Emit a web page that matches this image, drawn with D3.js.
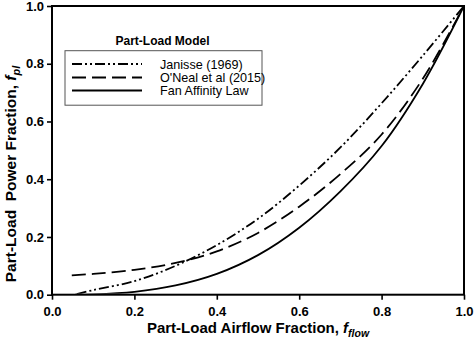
<!DOCTYPE html>
<html>
<head>
<meta charset="utf-8">
<script src="https://cdn.jsdelivr.net/npm/d3@7"></script>
<style>
  html, body { margin: 0; padding: 0; background: #fff; }
  svg { display: block; }
  text { font-family: Arial, "Liberation Sans", sans-serif; fill: #000; }
</style>
</head>
<body>
<svg id="chart" width="474" height="339"></svg>
<script>
// ---- Data ----
const seriesNames = ["Janisse (1969)", "O'Neal et al (2015)", "Fan Affinity Law"];

const flowJanisse = [0.06, 0.1, 0.2, 0.3, 0.4, 0.5, 0.6, 0.7, 0.8, 0.9, 1.0];
const plJanisse   = [0.002, 0.016, 0.047, 0.1, 0.172, 0.263, 0.378, 0.51, 0.663, 0.828, 1.0];

const flowONeal = [0.048, 0.1, 0.2, 0.3, 0.4, 0.5, 0.6, 0.7, 0.8, 0.9, 1.0];
const plONeal   = [0.067, 0.072, 0.086, 0.11, 0.15, 0.214, 0.305, 0.418, 0.555, 0.748, 1.0];

const flowFan = [0.056, 0.1, 0.2, 0.3, 0.4, 0.5, 0.6, 0.7, 0.8, 0.9, 1.0];
const plFan   = [0.0002, 0.0012, 0.01, 0.032, 0.072, 0.137, 0.232, 0.358, 0.515, 0.73, 1.0];

const xTicks = [0, 0.2, 0.4, 0.6, 0.8, 1.0];
const yTicks = [0, 0.2, 0.4, 0.6, 0.8, 1.0];

// ---- Layout ----
const svg = d3.select("#chart");
const mLeft = 52, mRight = 464, mTop = 6, mBottom = 294.7;

const x = d3.scaleLinear().domain([0, 1]).range([mLeft, mRight]);
const y = d3.scaleLinear().domain([0, 1]).range([mBottom, mTop]);

svg.append("rect").attr("width", 474).attr("height", 339).attr("fill", "#fff");

// Axes
const xAxis = d3.axisBottom(x).tickValues(xTicks).tickFormat(d3.format(".1f"))
  .tickSize(5).tickSizeOuter(0).tickPadding(7);
const yAxis = d3.axisLeft(y).tickValues(yTicks).tickFormat(d3.format(".1f"))
  .tickSize(5).tickSizeOuter(0).tickPadding(3);

const gx = svg.append("g").attr("transform", `translate(0,${mBottom})`).call(xAxis);
const gy = svg.append("g").attr("transform", `translate(${mLeft},0)`).call(yAxis);
[gx, gy].forEach(g => {
  g.select(".domain").remove();
  g.selectAll(".tick line").attr("stroke", "#000").attr("stroke-width", 1.6);
  g.selectAll(".tick text").attr("font-size", 13).attr("font-weight", "bold")
    .attr("font-family", "Arial, 'Liberation Sans', sans-serif").attr("fill", "#000");
});

// Frame
svg.append("rect")
  .attr("x", mLeft).attr("y", mTop)
  .attr("width", mRight - mLeft).attr("height", mBottom - mTop)
  .attr("fill", "none").attr("stroke", "#000").attr("stroke-width", 2);

// Curves
const styles = [
  { dash: "10,3,2,3,2,3" },
  { dash: "14,6" },
  { dash: null }
];
const seriesData = [
  d3.zip(flowJanisse, plJanisse),
  d3.zip(flowONeal, plONeal),
  d3.zip(flowFan, plFan)
];
const line = d3.line().x(d => x(d[0])).y(d => y(d[1])).curve(d3.curveCatmullRom.alpha(0.5));

svg.append("clipPath").attr("id", "plotclip")
  .append("rect").attr("x", mLeft).attr("y", mTop - 2).attr("width", mRight - mLeft).attr("height", mBottom - mTop + 1);

seriesData.forEach((data, i) => {
  svg.append("path")
    .datum(data)
    .attr("d", line)
    .attr("fill", "none")
    .attr("stroke", "#000")
    .attr("stroke-width", 1.8)
    .attr("stroke-dasharray", styles[i].dash)
    .attr("clip-path", "url(#plotclip)");
});

// Legend
svg.append("text")
  .attr("x", 162.5).attr("y", 45)
  .attr("text-anchor", "middle")
  .attr("font-size", 12).attr("font-weight", "bold")
  .text("Part-Load Model");

svg.append("rect")
  .attr("x", 65).attr("y", 50.7).attr("width", 197).attr("height", 54.5)
  .attr("fill", "#fff").attr("stroke", "#555").attr("stroke-width", 1);

const legY = [64, 77.5, 90.5];
seriesNames.forEach((name, i) => {
  svg.append("line")
    .attr("x1", 72).attr("x2", 142).attr("y1", legY[i]).attr("y2", legY[i])
    .attr("stroke", "#000").attr("stroke-width", 1.8)
    .attr("stroke-dasharray", styles[i].dash);
  svg.append("text")
    .attr("x", 160).attr("y", legY[i] + 4.5)
    .attr("font-size", 12.6)
    .text(name);
});

// Axis titles
const xt = svg.append("text")
  .attr("transform", "translate(258,333)")
  .attr("text-anchor", "middle")
  .attr("font-size", 15).attr("font-weight", "bold");
xt.append("tspan").text("Part-Load Airflow Fraction, ");
xt.append("tspan").attr("font-style", "italic").text("f");
xt.append("tspan").attr("font-style", "italic").attr("font-size", 10.5).attr("dy", 4).text("flow");

const yt = svg.append("text")
  .attr("transform", "translate(16,174) rotate(-90)")
  .attr("text-anchor", "middle")
  .attr("font-size", 15.5).attr("font-weight", "bold");
yt.append("tspan").text("Part-Load\u00a0 Power Fraction, ");
yt.append("tspan").attr("font-style", "italic").text("f");
yt.append("tspan").attr("font-style", "italic").attr("font-size", 11).attr("dy", 4).text("pl");
</script>
</body>
</html>
